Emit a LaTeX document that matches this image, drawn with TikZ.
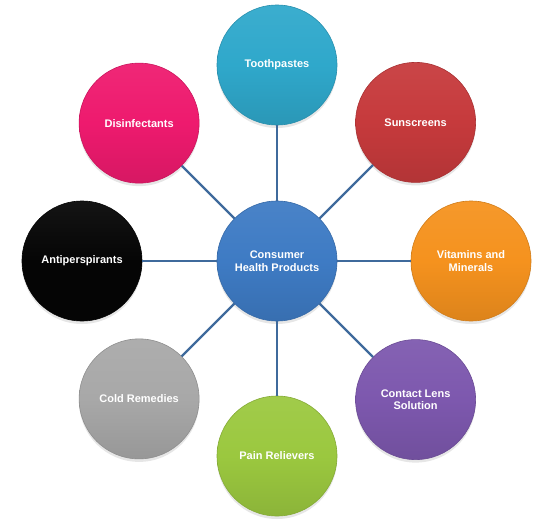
\documentclass[tikz,border=0pt]{standalone}
\usepackage{fontspec}
\setmainfont{Liberation Sans}
\usetikzlibrary{shadows}
\definecolor{hubblue}{HTML}{3E7BC4}
\definecolor{spoke}{HTML}{3F6A9C}
\definecolor{toothcol}{HTML}{2FA8CB}
\definecolor{suncol}{HTML}{C63A3C}
\definecolor{vitcol}{HTML}{F5921E}
\definecolor{lenscol}{HTML}{7D58AE}
\definecolor{paincol}{HTML}{9BC83F}
\definecolor{coldcol}{HTML}{A8A8A8}
\definecolor{anticol}{HTML}{050505}
\definecolor{disinfcol}{HTML}{EE1A6E}
\tikzset{
    bubble/.style={
        circle,
        minimum size=120pt,
        inner sep=0pt,
        align=center,
        text=white,
        font=\bfseries\fontsize{11}{12.5}\selectfont,
        top color=#1!94!white,
        bottom color=#1!90!black,
        middle color=#1,
        draw=#1!85!black,
        line width=0.6pt,
        drop shadow={opacity=0.2, shadow xshift=0pt, shadow yshift=-3pt}
    },
    spokeline/.style={
        spoke,
        line width=2.4pt
    }
}
\begin{document}
\begin{tikzpicture}[x=1pt,y=1pt]
    \useasboundingbox (-277,261) rectangle (263,-259);
    \node [bubble=hubblue] (hub) at (0,0) {Consumer\\Health Products};
    \node [bubble=toothcol] (tooth) at (90:196) {Toothpastes};
    \node [bubble=suncol] (sun) at (45:196) {Sunscreens};
    \node [bubble=vitcol] (vit) at (0:194) {Vitamins and\\Minerals};
    \node [bubble=lenscol] (lens) at (-45:196) {Contact Lens\\Solution};
    \node [bubble=paincol] (pain) at (-90:195) {Pain Relievers};
    \node [bubble=coldcol] (cold) at (-135:195) {Cold Remedies};
    \node [bubble=anticol] (anti) at (180:195) {Antiperspirants};
    \node [bubble=disinfcol] (disinf) at (135:195) {Disinfectants};
    % spokes from the hub
    \draw [spokeline] (hub) -- (tooth);
    \draw [spokeline] (hub) -- (sun);
    \draw [spokeline] (hub) -- (vit);
    \draw [spokeline] (hub) -- (lens);
    \draw [spokeline] (hub) -- (pain);
    \draw [spokeline] (hub) -- (cold);
    \draw [spokeline] (hub) -- (anti);
    \draw [spokeline] (hub) -- (disinf);
\end{tikzpicture}
\end{document}
